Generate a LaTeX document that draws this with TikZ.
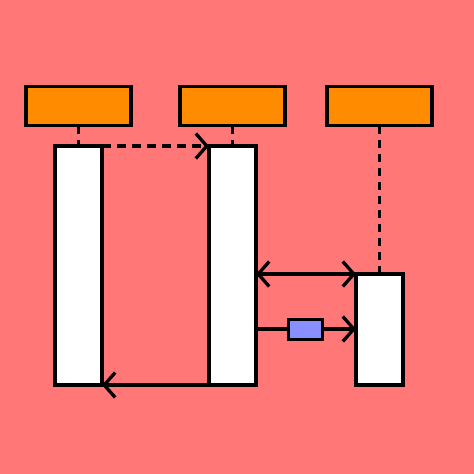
\documentclass[tikz,border=0pt]{standalone}
\usetikzlibrary{arrows.meta}
\definecolor{bgc}{HTML}{FF7777}
\definecolor{orangec}{HTML}{FF8C00}
\definecolor{bluec}{HTML}{8A8FFF}
\begin{document}
\begin{tikzpicture}[x=1pt,y=-1pt,line width=3.3pt,
  every node/.style={outer sep=0pt,inner sep=0pt},
  tip/.tip={Straight Barb[length=11pt,width=25pt,line width=3.3pt]},
  head/.style={draw=black,fill=orangec,minimum width=105pt,minimum height=39pt},
  bar/.style={draw=black,fill=white,minimum width=47pt,anchor=north},
  life/.style={draw=black,dash pattern=on 8pt off 6pt},
  msg/.style={draw=black,-tip},
  note/.style={draw=black,fill=bluec,line width=2.8pt}]
\fill[bgc] (0,0) rectangle (474,474);
\useasboundingbox (0,0) rectangle (474,474);
% heads
\node[head] (h1) at (78.5,106) {};
\node[head] (h2) at (232.5,106) {};
\node[head] (h3) at (379.5,106) {};
% bars
\node[bar,minimum height=239pt] (b1) at (78.5,146) {};
\node[bar,minimum height=239pt] (b2) at (232.5,146) {};
\node[bar,minimum height=111pt] (b3) at (379.5,274) {};
% lifelines
\draw[life] (h1.south) -- (b1.north);
\draw[life] (h2.south) -- (b2.north);
\draw[life] (h3.south) -- (b3.north);
% messages
\draw[msg,dash pattern=on 9pt off 6pt] (b1.north east) -- (b2.north west);
\draw[draw=black,tip-tip] (b2.east |- b3.north) -- (b3.north west);
\coordinate (m2a) at (b2.east |- 0,329);
\coordinate (m2b) at (b3.west |- 0,329);
\draw[msg] (m2a) -- (m2b);
\node[note,minimum width=34pt,minimum height=20pt] (n) at (305.5,329.5) {};
\draw[msg] (b2.south west) -- (b1.south east);
\end{tikzpicture}
\end{document}
